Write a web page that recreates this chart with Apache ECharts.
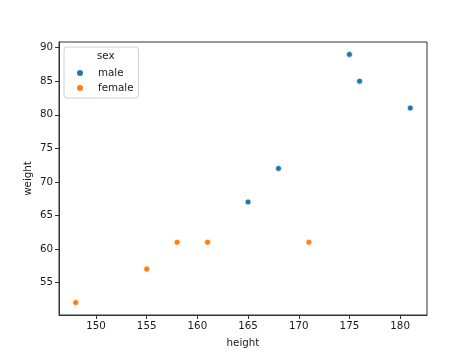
<!DOCTYPE html>
<html><head><meta charset="utf-8">
<script src="https://cdn.jsdelivr.net/npm/echarts@6/dist/echarts.min.js"></script>
<style>html,body{margin:0;padding:0;background:#fff}#c{width:474px;height:355px}</style>
</head><body><div id="c"></div>
<script>
const maleHeight = [165, 168, 175, 176, 181];
const maleWeight = [67, 72, 89, 85, 81];
const femaleHeight = [148, 155, 158, 161, 171];
const femaleWeight = [52, 57, 61, 61, 61];
const xTicks = [150, 155, 160, 165, 170, 175, 180];
const yTicks = [55, 60, 65, 70, 75, 80, 85, 90];
const seriesNames = ['male', 'female'];
const legendTitle = 'sex';
const xName = 'height', yName = 'weight';

const font = 'DejaVu Sans';
const txt = '#1a1a1a';
const chart = echarts.init(document.getElementById('c'), null, {renderer: 'canvas'});
const pairs = (xs, ys) => xs.map((x, i) => [x, ys[i]]);
const axisCommon = {
  type: 'value',
  axisLine: {show: true, onZero: false, lineStyle: {color: '#333', width: 1}},
  splitLine: {show: false},
  nameTextStyle: {fontFamily: font, fontSize: 10.3, color: txt},
};
chart.setOption({
  animation: false,
  grid: {left: 59, right: 47, top: 42, bottom: 40, show: true, borderColor: '#333', borderWidth: 1, backgroundColor: '#fff'},
  xAxis: Object.assign({}, axisCommon, {
    min: 146.35, max: 182.65,
    name: xName, nameLocation: 'middle', nameGap: 23, nameMoveOverlap: false,
    axisTick: {show: true, length: 4, lineStyle: {color: '#333'}, customValues: xTicks},
    axisLabel: {fontFamily: font, fontSize: 10.3, color: txt, margin: 6, customValues: xTicks},
  }),
  yAxis: Object.assign({}, axisCommon, {
    min: 50.15, max: 90.85,
    name: yName, nameLocation: 'middle', nameGap: 26, nameRotate: 90, nameMoveOverlap: false,
    axisTick: {show: true, length: 4, lineStyle: {color: '#333'}, customValues: yTicks},
    axisLabel: {fontFamily: font, fontSize: 10.3, color: txt, margin: 6, customValues: yTicks},
  }),
  legend: {
    orient: 'vertical', left: 64, top: 47,
    padding: [20, 5, 4, 11], itemGap: 3, itemWidth: 26, itemHeight: 8,
    icon: 'circle',
    backgroundColor: '#fff', borderColor: '#d0d0d0', borderWidth: 1, borderRadius: 3,
    textStyle: {fontFamily: font, fontSize: 10.3, color: txt, lineHeight: 12},
    data: seriesNames,
  },
  graphic: [{
    type: 'text', left: 97, top: 51, z: 100, zlevel: 1,
    style: {text: legendTitle, fontFamily: font, fontSize: 10.3, fill: txt}
  }],
  series: [
    {name: seriesNames[0], type: 'scatter', symbolSize: 6, data: pairs(maleHeight, maleWeight),
     itemStyle: {color: '#1f77b4', borderColor: '#fff', borderWidth: 0.7, opacity: 1}},
    {name: seriesNames[1], type: 'scatter', symbolSize: 6, data: pairs(femaleHeight, femaleWeight),
     itemStyle: {color: '#ff7f0e', borderColor: '#fff', borderWidth: 0.7, opacity: 1}},
  ]
});
</script></body></html>
